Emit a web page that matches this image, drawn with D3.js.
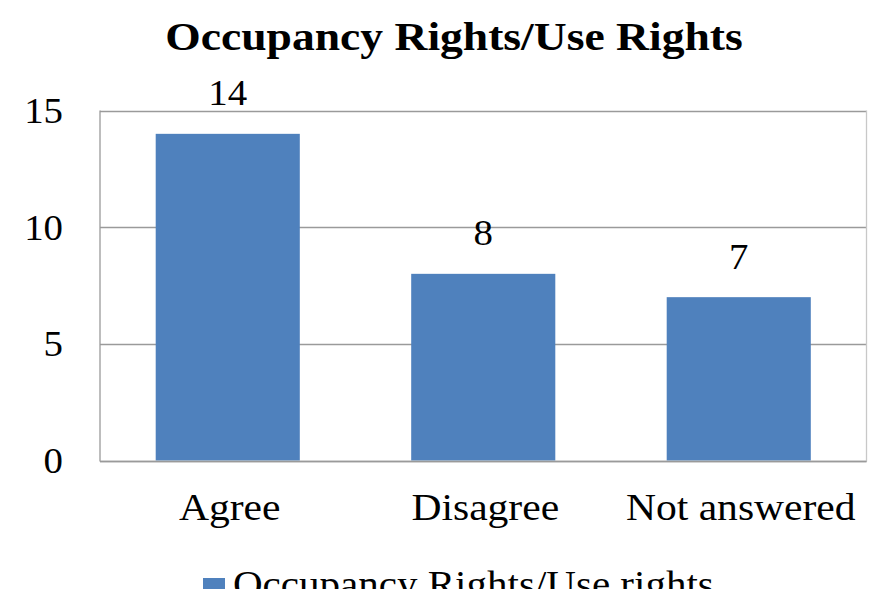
<!DOCTYPE html>
<html>
<head>
<meta charset="utf-8">
<script src="https://cdn.jsdelivr.net/npm/d3@7"></script>
<style>
  html, body { margin: 0; padding: 0; background: #fff; }
  svg { display: block; }
  text { font-family: "Liberation Serif", "Times New Roman", serif; fill: #000; }
</style>
</head>
<body>
<svg id="chart" width="880" height="589"></svg>
<script>
const categories = ["Agree", "Disagree", "Not answered"];
const values = [14, 8, 7];
const yTicks = [0, 5, 10, 15];
const chartTitle = "Occupancy Rights/Use Rights";
const seriesName = "Occupancy Rights/Use rights";

const W = 880, H = 589;
const plot = { left: 100, right: 866.5, top: 110.5, bottom: 460.5 };
const barColor = "#4F81BD";
const gridColor = "#9a9a9a";
const sxReg = 1.08, sxBold = 1.14;

const svg = d3.select("#chart");
svg.append("rect").attr("width", W).attr("height", H).attr("fill", "#fff");

const x = d3.scaleBand().domain(categories)
  .range([plot.left, plot.right]).paddingInner(0.436).paddingOuter(0.218);
const y = d3.scaleLinear().domain([0, 15]).range([plot.bottom, plot.top]);

function stretchedText(g, tx, ty, str, sx, opts) {
  const t = g.append("text")
    .attr("transform", `translate(${tx},${ty}) scale(${sx},1)`)
    .attr("text-anchor", opts.anchor || "middle")
    .attr("font-size", opts.size)
    .attr("font-weight", opts.weight || "normal")
    .attr("dominant-baseline", opts.baseline || "auto")
    .text(str);
  return t;
}

// gridlines
const grid = svg.append("g");
grid.selectAll("line").data(yTicks).join("line")
  .attr("x1", plot.left).attr("x2", plot.right)
  .attr("y1", d => Math.round(y(d)) + 0.5).attr("y2", d => Math.round(y(d)) + 0.5)
  .attr("stroke", gridColor).attr("stroke-width", 1.3);
// plot border verticals
svg.append("line").attr("x1", plot.left).attr("x2", plot.left)
  .attr("y1", plot.top).attr("y2", plot.bottom + 1)
  .attr("stroke", gridColor).attr("stroke-width", 1.3);
svg.append("line").attr("x1", plot.right).attr("x2", plot.right)
  .attr("y1", plot.top).attr("y2", plot.bottom + 1)
  .attr("stroke", "#c8c8c8").attr("stroke-width", 1.3);

// bars
svg.append("g").selectAll("rect").data(values).join("rect")
  .attr("x", (d, i) => x(categories[i]))
  .attr("width", x.bandwidth())
  .attr("y", d => y(d))
  .attr("height", d => y(0) - y(d))
  .attr("fill", barColor);

// redraw baseline on top of bars
svg.append("line").attr("x1", plot.left).attr("x2", plot.right)
  .attr("y1", Math.round(y(0)) + 0.5).attr("y2", Math.round(y(0)) + 0.5)
  .attr("stroke", gridColor).attr("stroke-width", 1.3);

// y tick labels
const yl = svg.append("g");
yTicks.forEach(t => {
  stretchedText(yl, 63, y(t) + 12.5, String(t), sxReg, { size: 36, anchor: "end" });
});

// value labels
const vl = svg.append("g");
values.forEach((v, i) => {
  const cx = x(categories[i]) + x.bandwidth() / 2;
  stretchedText(vl, cx, y(v) - 28.5, String(v), sxReg, { size: 36 });
});

// category labels
const cl = svg.append("g");
categories.forEach(c => {
  const cx = x(c) + x.bandwidth() / 2 + 2;
  stretchedText(cl, cx, 519.5, c, sxReg, { size: 38.5 });
});

// title
stretchedText(svg, 454, 49.5, chartTitle, sxBold, { size: 40, weight: "bold" });

// legend
const lg = svg.append("g");
lg.append("rect").attr("x", 203).attr("y", 578).attr("width", 22).attr("height", 22).attr("fill", barColor);
stretchedText(lg, 233, 597, seriesName, sxReg, { size: 38, anchor: "start" });
</script>
</body>
</html>
